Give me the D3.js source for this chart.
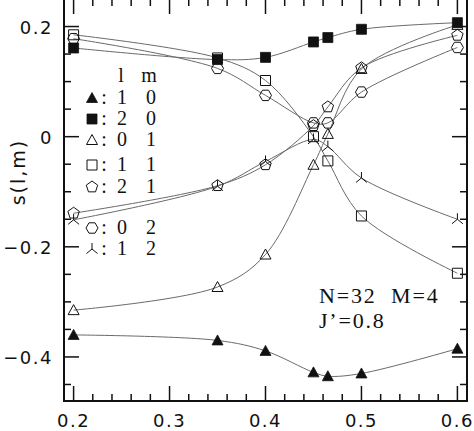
<!DOCTYPE html>
<html>
<head>
<meta charset="utf-8">
<script src="https://cdn.jsdelivr.net/npm/d3@7"></script>
<style>
  body { margin: 0; background: #fff; }
  svg { display: block; }
</style>
</head>
<body>
<div id="chart"></div>
<script>
'use strict';

// data
const xs = [0.2, 0.35, 0.4, 0.45, 0.465, 0.5, 0.6];
const s10 = [-0.36, -0.37, -0.389, -0.428, -0.435, -0.43, -0.385];
const s20 = [0.161, 0.14, 0.144, 0.172, 0.18, 0.195, 0.207];
const s01 = [-0.315, -0.273, -0.214, -0.051, 0.005, 0.123, 0.203];
const s11 = [0.185, 0.143, 0.102, 0.0, -0.044, -0.144, -0.248];
const s21 = [-0.139, -0.089, -0.051, 0.02, 0.054, 0.125, 0.184];
const s02 = [0.178, 0.124, 0.075, 0.025, 0.025, 0.081, 0.162];
const s12 = [-0.151, -0.09, -0.045, -0.005, -0.018, -0.075, -0.15];

const seriesL = ['1', '2', '0', '1', '2', '0', '1'];
const seriesM = ['0', '0', '1', '1', '1', '2', '2'];
const seriesMarker = ['triFill', 'sqFill', 'tri', 'sq', 'pent', 'hex', 'star'];
const seriesValues = [s10, s20, s01, s11, s21, s02, s12];

const xMajor = [0.2, 0.3, 0.4, 0.5, 0.6];
const xLabels = ['0.2', '0.3', '0.4', '0.5', '0.6'];
const yMajor = [0.2, 0, -0.2, -0.4];
const yLabels = ['0.2', '0', '\u22120.2', '\u22120.4'];

const width = 474;
const height = 431;
const frame = { left: 64, right: 467, top: -1, bottom: 401 };

const svg = d3.select('#chart').append('svg')
    .attr('width', width)
    .attr('height', height);

const x = d3.scaleLinear().domain([0.19, 0.61]).range([frame.left, frame.right]);
const y = d3.scaleLinear().domain([-0.48, 0.25]).range([frame.bottom, frame.top]);

const ink = '#111';
const lineGrey = '#6a6a6a';

// marker shapes
function polygon(n, r, rot) {
    const pts = d3.range(n).map(i => {
        const a = rot + i * 2 * Math.PI / n;
        return [r * Math.cos(a), r * Math.sin(a)];
    });
    return 'M' + pts.map(p => p.join(',')).join('L') + 'Z';
}

function markerPath(kind) {
    switch (kind) {
        case 'triFill':
        case 'tri':
            return 'M0,-5.5L5.5,4.5L-5.5,4.5Z';
        case 'sqFill':
        case 'sq':
            return 'M-5,-5H5V5H-5Z';
        case 'pent':
            return polygon(5, 6, -Math.PI / 2);
        case 'hex':
            return polygon(6, 6, 0);
        case 'star':
            return 'M0,0V-6M0,0L-5.5,4.5M0,0L5.5,4.5';
    }
}

function drawMarker(g, kind) {
    const filled = kind === 'triFill' || kind === 'sqFill';
    g.append('path')
        .attr('d', markerPath(kind))
        .attr('fill', filled ? ink : 'none')
        .attr('stroke', ink)
        .attr('stroke-width', filled ? 0.8 : 1);
}

// curves
const line = d3.line()
    .x(d => x(d[0]))
    .y(d => y(d[1]))
    .curve(d3.curveCatmullRom.alpha(0.5));

seriesValues.forEach((vals, i) => {
    const pts = xs.map((xv, j) => [xv, vals[j]]);
    svg.append('path')
        .attr('d', line(pts))
        .attr('fill', 'none')
        .attr('stroke', lineGrey)
        .attr('stroke-width', 1);
});

seriesValues.forEach((vals, i) => {
    xs.forEach((xv, j) => {
        const g = svg.append('g').attr('transform', `translate(${x(xv)},${y(vals[j])})`);
        drawMarker(g, seriesMarker[i]);
    });
});

// frame and ticks
svg.append('rect')
    .attr('x', frame.left).attr('y', frame.top)
    .attr('width', frame.right - frame.left)
    .attr('height', frame.bottom - frame.top)
    .attr('fill', 'none')
    .attr('stroke', ink)
    .attr('stroke-width', 2);

const xMinor = d3.range(0.2, 0.6001, 0.02);
const yMinor = d3.range(-0.45, 0.2501, 0.05);
const isMajor = (v, list) => list.some(m => Math.abs(m - v) < 1e-6);

xMinor.forEach(v => {
    const len = isMajor(v, xMajor) ? 15 : 7;
    svg.append('line').attr('x1', x(v)).attr('x2', x(v))
        .attr('y1', frame.bottom).attr('y2', frame.bottom - len)
        .attr('stroke', ink).attr('stroke-width', 1.5);
    svg.append('line').attr('x1', x(v)).attr('x2', x(v))
        .attr('y1', frame.top).attr('y2', frame.top + len)
        .attr('stroke', ink).attr('stroke-width', 1.5);
});

yMinor.forEach(v => {
    const len = isMajor(v, yMajor) ? 15 : 7;
    svg.append('line').attr('y1', y(v)).attr('y2', y(v))
        .attr('x1', frame.left).attr('x2', frame.left + len)
        .attr('stroke', ink).attr('stroke-width', 1.5);
    svg.append('line').attr('y1', y(v)).attr('y2', y(v))
        .attr('x1', frame.right).attr('x2', frame.right - len)
        .attr('stroke', ink).attr('stroke-width', 1.5);
});

const tickFont = '"DejaVu Sans", sans-serif';

svg.append('g').selectAll('text')
    .data(xMajor)
    .join('text')
    .attr('x', d => x(d))
    .attr('y', 427)
    .attr('text-anchor', 'middle')
    .attr('font-family', tickFont)
    .attr('font-size', 18)
    .attr('letter-spacing', 1.5)
    .attr('fill', ink)
    .text((d, i) => xLabels[i]);

svg.append('g').selectAll('text')
    .data(yMajor)
    .join('text')
    .attr('x', 53)
    .attr('y', d => y(d) + 7)
    .attr('text-anchor', 'end')
    .attr('font-family', tickFont)
    .attr('font-size', 18)
    .attr('letter-spacing', 1.5)
    .attr('fill', ink)
    .text((d, i) => yLabels[i]);

svg.append('text')
    .attr('transform', 'translate(25,172) rotate(-90)')
    .attr('text-anchor', 'middle')
    .attr('font-family', tickFont)
    .attr('font-size', 19)
    .attr('letter-spacing', 2)
    .attr('fill', ink)
    .text('s(l,m)');

// legend
const serif = '"Liberation Serif", "DejaVu Serif", serif';
const legendRows = [98, 119, 140, 165, 187, 228, 249];

const header = svg.append('g').attr('font-family', serif).attr('font-size', 20).attr('fill', ink);
header.append('text').attr('x', 121).attr('y', 82).attr('text-anchor', 'middle').text('l');
header.append('text').attr('x', 149).attr('y', 82).attr('text-anchor', 'middle').text('m');

seriesMarker.forEach((kind, i) => {
    const row = svg.append('g').attr('transform', `translate(0,${legendRows[i]})`);
    const mg = row.append('g').attr('transform', 'translate(92,0)');
    drawMarker(mg, kind);
    row.append('text').attr('x', 104).attr('y', 6).attr('text-anchor', 'middle')
        .attr('font-family', serif).attr('font-size', 20).attr('fill', ink).text(':');
    row.append('text').attr('x', 122).attr('y', 6).attr('text-anchor', 'middle')
        .attr('font-family', serif).attr('font-size', 20).attr('fill', ink).text(seriesL[i]);
    row.append('text').attr('x', 151).attr('y', 6).attr('text-anchor', 'middle')
        .attr('font-family', serif).attr('font-size', 20).attr('fill', ink).text(seriesM[i]);
});

// annotation
svg.append('text')
    .attr('x', 319).attr('y', 303)
    .attr('font-family', serif).attr('font-size', 22)
    .attr('letter-spacing', 1.8)
    .attr('fill', ink)
    .style('white-space', 'pre')
    .text('N=32  M=4');

svg.append('text')
    .attr('x', 319).attr('y', 328)
    .attr('font-family', serif).attr('font-size', 22)
    .attr('letter-spacing', 1.8)
    .attr('fill', ink)
    .text('J\u2019=0.8');
</script>
</body>
</html>
